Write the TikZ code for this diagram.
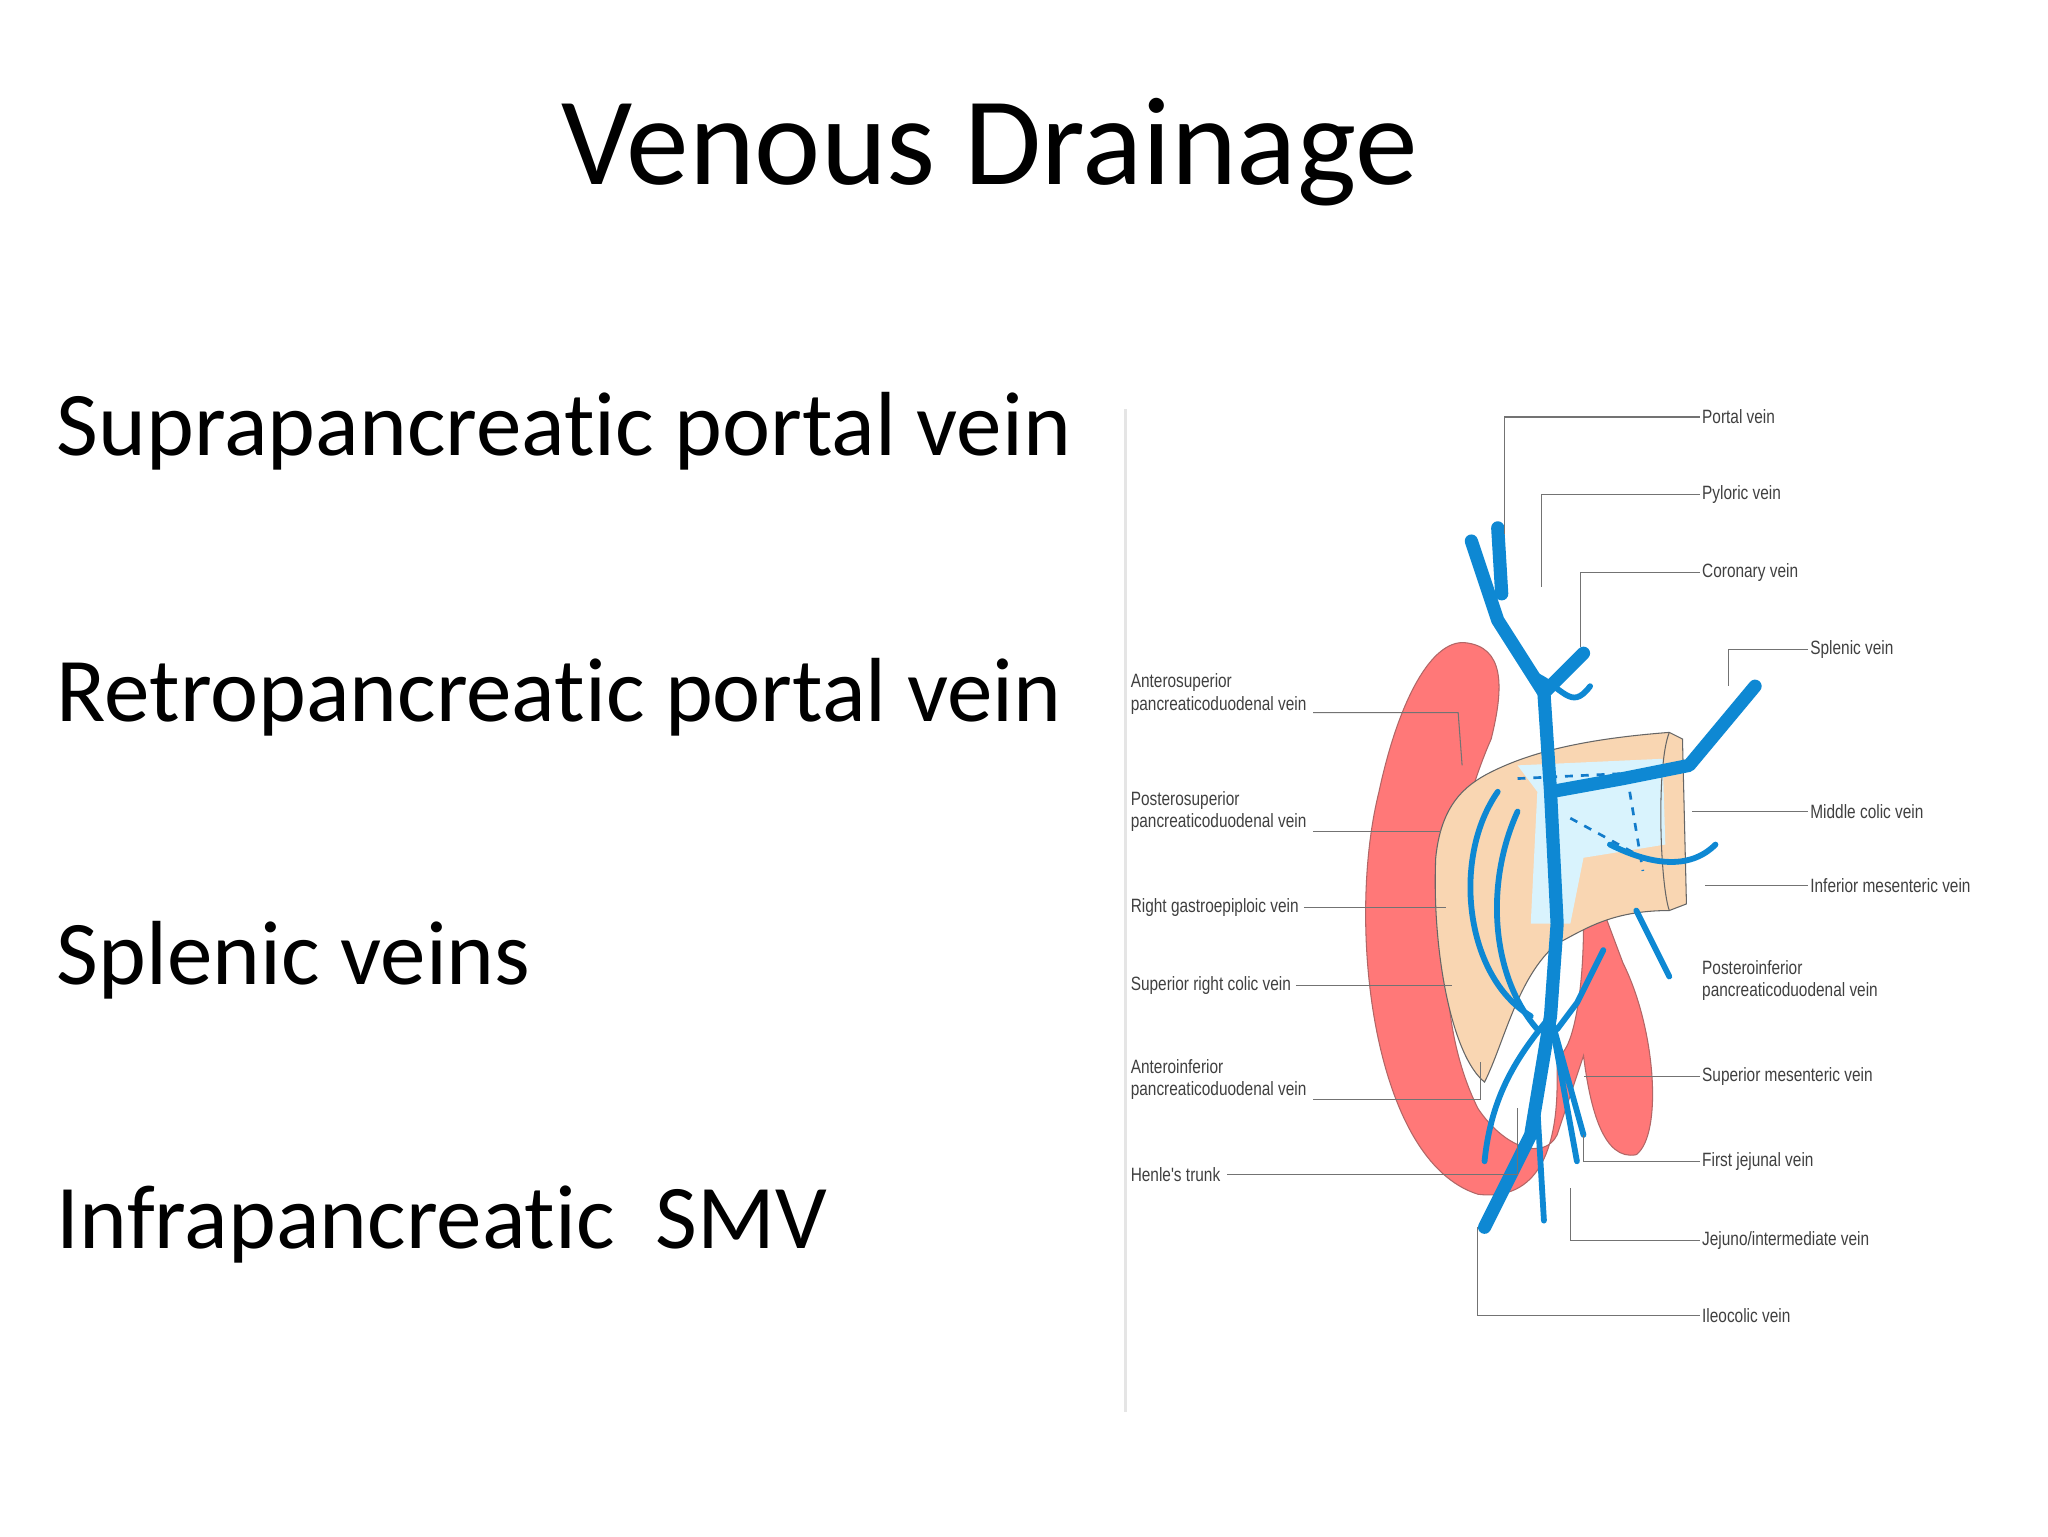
\documentclass[tikz,border=0pt]{standalone}
\usepackage{fontspec}
\setmainfont{Carlito}[Ligatures=NoCommon]
\newfontfamily\lab{Liberation Sans}
\begin{document}
\begin{tikzpicture}[x=0.5pt,y=-0.5pt,
 lbl/.style={font=\lab\fontsize{7.3}{8.5}\selectfont,text=black!75,align=left,inner sep=1pt,xscale=0.8},
 lead/.style={draw=black!55,line width=0.4pt},
 vein/.style={draw=cyan!70!blue,line width=5pt,line cap=round,line join=round},
 thin/.style={draw=cyan!70!blue,line width=2.2pt,line cap=round},
 body/.style={font=\fontsize{34.5}{40}\selectfont,anchor=west}]
\useasboundingbox[fill=white] (0,0) rectangle (1552,1164);
\node (t) at (750,115) {\fontsize{47.5}{54}\selectfont Venous Drainage};
\node[body] (b1) at (36,327) {Suprapancreatic portal vein};
\node[body] (b2) at (36,528) {Retropancreatic portal vein};
\node[body] (b3) at (36,728) {Splenic veins};
\node[body] (b4) at (36,928) {Infrapancreatic\ \ SMV};
\draw[black!10,line width=1pt] (853,310) -- (853,1070);
% duodenum
\fill[red!55!pink!80,draw=red!50!black!60,line width=0.4pt] (1110,487) .. controls (1140,490) and (1140,520) .. (1130,560)
 .. controls (1095,640) and (1080,760) .. (1120,840) .. controls (1140,870) and (1170,880) .. (1180,860)
 -- (1200,800) .. controls (1205,840) and (1215,880) .. (1240,875) .. controls (1260,860) and (1255,780) .. (1230,730)
 -- (1215,690) -- (1200,700) .. controls (1200,760) and (1190,800) .. (1180,800) -- (1180,820)
 .. controls (1180,880) and (1160,910) .. (1120,905) .. controls (1040,880) and (1020,700) .. (1045,600)
 .. controls (1060,530) and (1085,485) .. (1110,487) -- cycle;
% pancreas
\fill[orange!25!white!90!brown,draw=black!60,line width=0.4pt] (1130,585) .. controls (1160,570) and (1200,560) .. (1265,555)
 -- (1275,560) -- (1278,685) -- (1265,690) .. controls (1220,690) and (1200,705) .. (1180,715)
 .. controls (1150,740) and (1140,790) .. (1125,820) .. controls (1100,800) and (1085,720) .. (1088,650)
 .. controls (1092,610) and (1110,595) .. (1130,585) -- cycle;
\fill[cyan!15] (1150,580) -- (1260,575) -- (1262,640) -- (1200,650) -- (1190,700) -- (1160,700) -- (1165,600) -- cycle;
\draw[black!60,line width=0.4pt] (1265,555) .. controls (1255,580) and (1258,670) .. (1265,690);
\draw[cyan!60!blue,dashed,line width=1pt] (1150,590) -- (1255,585) (1190,620) -- (1245,650) (1235,600) -- (1245,660);
% veins
\draw[vein] (1115,410) -- (1135,470) -- (1170,525) -- (1175,600) -- (1180,700) -- (1175,770) -- (1160,860) -- (1125,930);
\draw[vein] (1135,400) -- (1138,450);
\draw[vein] (1170,525) -- (1200,495);
\draw[thin] (1160,510) .. controls (1185,520) and (1190,540) .. (1205,520);
\draw[vein] (1175,600) -- (1230,590) -- (1280,580) -- (1305,550) -- (1330,520);
\draw[thin] (1220,640) .. controls (1250,655) and (1280,660) .. (1300,640);
\draw[thin] (1175,770) -- (1200,860) (1175,770) -- (1195,880) (1165,840) -- (1170,925) (1180,780) -- (1195,760) -- (1215,720);
\draw[thin] (1135,600) .. controls (1100,650) and (1110,740) .. (1160,770);
\draw[thin] (1150,615) .. controls (1125,670) and (1130,740) .. (1165,780);
\draw[thin] (1175,770) .. controls (1150,800) and (1130,830) .. (1125,880);
\draw[thin] (1240,690) -- (1265,740);
% left labels
\node[lbl,anchor=west] (l1) at (855,526) {Anterosuperior\\pancreaticoduodenal vein};
\node[lbl,anchor=west] (l2) at (855,615) {Posterosuperior\\pancreaticoduodenal vein};
\node[lbl,anchor=west] (l3) at (855,688) {Right gastroepiploic vein};
\node[lbl,anchor=west] (l4) at (855,747) {Superior right colic vein};
\node[lbl,anchor=west] (l5) at (855,818) {Anteroinferior\\pancreaticoduodenal vein};
\node[lbl,anchor=west] (l6) at (855,890) {Henle's trunk};
\draw[lead] (995,540) -- (1105,540) -- (1108,580);
\draw[lead] (995,630) -- (1092,630);
\draw[lead] (988,688) -- (1096,688);
\draw[lead] (982,747) -- (1100,747);
\draw[lead] (995,833) -- (1122,833) -- (1122,805);
\draw[lead] (930,890) -- (1150,890) -- (1150,840);
% right labels
\node[lbl,anchor=west] (r1) at (1288,316) {Portal vein};
\node[lbl,anchor=west] (r2) at (1288,375) {Pyloric vein};
\node[lbl,anchor=west] (r3) at (1288,434) {Coronary vein};
\node[lbl,anchor=west] (r4) at (1370,492) {Splenic vein};
\node[lbl,anchor=west] (r5) at (1370,615) {Middle colic vein};
\node[lbl,anchor=west] (r6) at (1370,671) {Inferior mesenteric vein};
\node[lbl,anchor=west] (r7) at (1288,743) {Posteroinferior\\pancreaticoduodenal vein};
\node[lbl,anchor=west] (r8) at (1288,816) {Superior mesenteric vein};
\node[lbl,anchor=west] (r9) at (1288,880) {First jejunal vein};
\node[lbl,anchor=west] (r10) at (1288,940) {Jejuno/intermediate vein};
\node[lbl,anchor=west] (r11) at (1288,997) {Ileocolic vein};
\draw[lead] (1288,316) -- (1140,316) -- (1140,405);
\draw[lead] (1288,375) -- (1168,375) -- (1168,445);
\draw[lead] (1288,434) -- (1198,434) -- (1198,490);
\draw[lead] (1370,492) -- (1310,492) -- (1310,520);
\draw[lead] (1370,615) -- (1282,615);
\draw[lead] (1370,671) -- (1292,671);
\draw[lead] (1288,816) -- (1200,816);
\draw[lead] (1288,880) -- (1200,880) -- (1200,860);
\draw[lead] (1288,940) -- (1190,940) -- (1190,900);
\draw[lead] (1288,997) -- (1120,997) -- (1120,930);
\end{tikzpicture}
\end{document}
